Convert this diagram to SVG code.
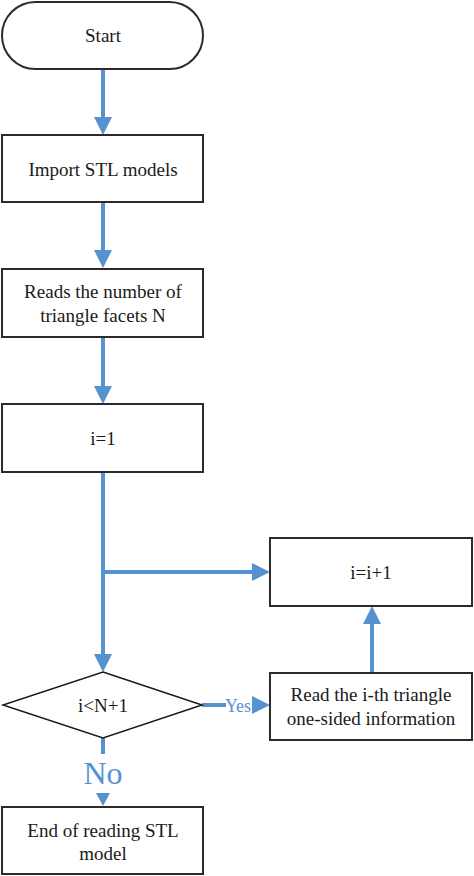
<svg xmlns="http://www.w3.org/2000/svg" width="474" height="876" viewBox="0 0 474 876">
<style>
.box{fill:#fff;stroke:#2b2b2b;stroke-width:2}
.dia{fill:#fff;stroke:#1a1a1a;stroke-width:1.5}
.t{font-size:19px;fill:#1a1a1a;text-anchor:middle}
.ln{stroke:#5592cf;stroke-width:4;fill:none}
.ah{fill:#5592cf}
.lbl{fill:#5592cf;text-anchor:middle}
</style>
<rect width="474" height="876" fill="#fff"/>
<g font-family="'Liberation Serif', 'Times New Roman', Times, serif">
<g id="connectors">
<line class="ln" x1="103" y1="69" x2="103" y2="120"/>
<polygon class="ah" points="94,117 112,117 103,135"/>
<line class="ln" x1="103" y1="202" x2="103" y2="253"/>
<polygon class="ah" points="94,250 112,250 103,268"/>
<line class="ln" x1="103" y1="337" x2="103" y2="389"/>
<polygon class="ah" points="94,386 112,386 103,404"/>
<line class="ln" x1="103" y1="472" x2="103" y2="657"/>
<polygon class="ah" points="94,654 112,654 103,672"/>
<line class="ln" x1="103" y1="572" x2="255" y2="572"/>
<polygon class="ah" points="252,563 252,581 270,572"/>
<line class="ln" x1="202" y1="705" x2="226" y2="705"/>
<polygon class="ah" points="252,696 252,714 270,705"/>
<line class="ln" x1="372" y1="673" x2="372" y2="621"/>
<polygon class="ah" points="363,624 381,624 372,606"/>
<line class="ln" x1="103" y1="738" x2="103" y2="754"/>
<polygon class="ah" points="96,793 110,793 103,806"/>
<text class="lbl" x="238" y="712" font-size="18">Yes</text>
<text class="lbl" x="103" y="784" font-size="32">No</text>
</g>
<g id="start">
<rect class="box" x="2" y="2" width="201" height="67" rx="33.5" ry="33.5"/>
<text class="t" x="103" y="42">Start</text>
</g>
<g id="import">
<rect class="box" x="2" y="135" width="201" height="67"/>
<text class="t" x="103" y="176">Import STL models</text>
</g>
<g id="reads">
<rect class="box" x="2" y="269" width="201" height="68"/>
<text class="t" x="103" y="298">Reads the number of</text>
<text class="t" x="103" y="322">triangle facets N</text>
</g>
<g id="init">
<rect class="box" x="2" y="404" width="201" height="68"/>
<text class="t" x="103" y="445">i=1</text>
</g>
<g id="incr">
<rect class="box" x="270" y="538" width="202" height="68"/>
<text class="t" x="371" y="579">i=i+1</text>
</g>
<g id="decision">
<polygon class="dia" points="103,672 202,705 103,738 3,705"/>
<text class="t" x="103" y="712">i&lt;N+1</text>
</g>
<g id="readtri">
<rect class="box" x="270" y="673" width="202" height="67"/>
<text class="t" x="371" y="701">Read the i-th triangle</text>
<text class="t" x="371" y="725">one-sided information</text>
</g>
<g id="end">
<rect class="box" x="2" y="807" width="201" height="67"/>
<text class="t" x="103" y="837">End of reading STL</text>
<text class="t" x="103" y="860">model</text>
</g>
</g>
</svg>
